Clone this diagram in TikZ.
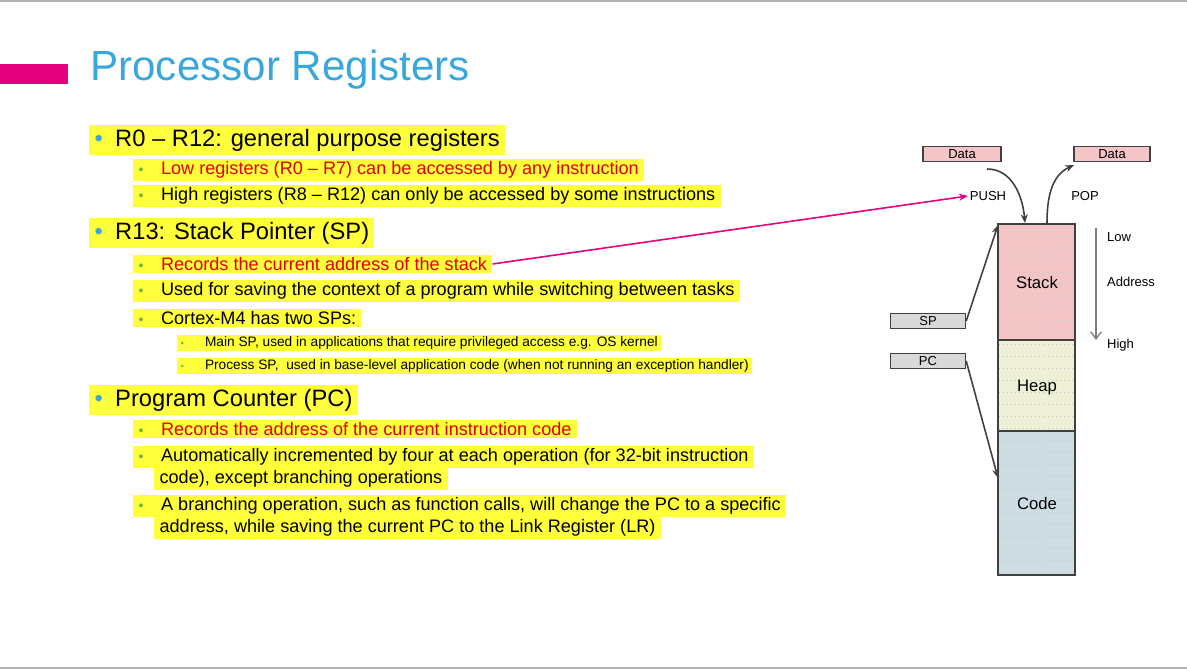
\documentclass[tikz,border=0pt]{standalone}
\usepackage{fontspec}
\setmainfont{Liberation Sans}
\usetikzlibrary{arrows.meta}
\definecolor{ttl}{HTML}{3AA7DC}
\definecolor{mag}{HTML}{E5007E}
\definecolor{hl}{HTML}{FFFF3C}
\definecolor{bgreen}{HTML}{6DB33F}
\definecolor{rtxt}{HTML}{E00000}
\definecolor{stk}{HTML}{F3C5C7}
\definecolor{hp}{HTML}{EEF0D7}
\definecolor{cd}{HTML}{CEDCE4}
\definecolor{bx}{HTML}{D9D9D9}
\definecolor{ln}{HTML}{404040}
\tikzset{
 l1/.style={fill=hl,anchor=west,inner xsep=3pt,inner ysep=2pt,font=\fontsize{13.5}{15}\selectfont},
 l2/.style={fill=hl,anchor=west,inner xsep=3pt,inner ysep=1.5pt,font=\fontsize{10.3}{12}\selectfont},
 l3/.style={fill=hl,anchor=west,inner xsep=2pt,inner ysep=1pt,font=\fontsize{7.8}{9}\selectfont},
 lab/.style={font=\fontsize{7.4}{8}\selectfont,inner sep=1pt},
 regbox/.style={draw=ln,line width=0.8pt,minimum height=8.5pt,inner sep=0pt,font=\fontsize{7.4}{8}\selectfont},
 seg/.style={draw=ln,line width=1pt},
 conn/.style={draw=ln,line width=0.9pt,-{Stealth[length=5pt,width=4pt]}},
}
\newcommand{\bA}{\textcolor{ttl}{•}\hspace{7pt}}
\newcommand{\bB}{\textcolor{bgreen}{\footnotesize•}\hspace{10pt}}
\newcommand{\bC}{\textcolor{bgreen}{\tiny•}\hspace{12pt}}
\begin{document}
\begin{tikzpicture}[x=0.02cm,y=-0.02cm]
\useasboundingbox (0,0) rectangle (1187,671);
\draw[gray!60,line width=0.6pt] (0,1) -- (1187,1);
\draw[gray!60,line width=0.6pt] (0,668) -- (1187,668);
\fill[mag] (0,64) rectangle (68,84);
\node[anchor=west,inner sep=0pt,text=ttl,font=\fontsize{24}{28}\selectfont] (title) at (90,70) {Processor Registers};
% bullets
\node[l1] (a1) at (89,140) {\bA R0 -- R12: general purpose registers};
\node[l2] (a1a) at (133,170) {\bB\textcolor{rtxt}{Low registers (R0 -- R7) can be accessed by any instruction}};
\node[l2] (a1b) at (133,196) {\bB High registers (R8 -- R12) can only be accessed by some instructions};
\node[l1] (a2) at (89,233) {\bA R13: Stack Pointer (SP)};
\node[l2] (a2a) at (133,264) {\bB\textcolor{rtxt}{Records the current address of the stack}};
\node[l2] (a2b) at (133,291) {\bB Used for saving the context of a program while switching between tasks};
\node[l2] (a2c) at (133,318) {\bB Cortex-M4 has two SPs:};
\node[l3] (a2c1) at (177,343) {\bC Main SP, used in applications that require privileged access e.g. OS kernel};
\node[l3] (a2c2) at (177,366) {\bC Process SP,\ \ used in base-level application code (when not running an exception handler)};
\node[l1] (a3) at (89,400) {\bA Program Counter (PC)};
\node[l2] (a3a) at (133,429) {\bB\textcolor{rtxt}{Records the address of the current instruction code}};
\node[l2] (a3b) at (133,457) {\bB Automatically incremented by four at each operation (for 32-bit instruction};
\node[l2] (a3b2) at (154,479) {code), except branching operations};
\node[l2] (a3c) at (133,506) {\bB A branching operation, such as function calls, will change the PC to a specific};
\node[l2] (a3c2) at (154,528) {address, while saving the current PC to the Link Register (LR)};
% memory
\fill[stk] (998,224) rectangle (1075,340);
\fill[hp] (998,340) rectangle (1075,431);
\fill[cd] (998,431) rectangle (1075,575);
\foreach \y in {236,248,...,572} \draw[gray!45,dotted,line width=0.3pt] (999,\y) -- (1074,\y);
\draw[seg] (998,224) rectangle (1075,340);
\draw[seg] (998,340) rectangle (1075,431);
\draw[seg] (998,431) rectangle (1075,575);
\node[font=\fontsize{9.5}{11}\selectfont] (stack) at (1037,283) {Stack};
\node[font=\fontsize{9.5}{11}\selectfont] (heap) at (1037,387) {Heap};
\node[font=\fontsize{9.5}{11}\selectfont] (code) at (1037,504) {Code};
\coordinate (stop) at (998,225);
\coordinate (cin) at (998,478);
\coordinate (pushend) at (1025,223);
\coordinate (popstart) at (1047,223);
\node[regbox,fill=stk,minimum width=78*0.02cm] (d1) at (962,154) {Data};
\node[regbox,fill=stk,minimum width=76*0.02cm] (d2) at (1112,154) {Data};
\node[regbox,fill=bx,minimum width=75*0.02cm] (sp) at (928,321) {SP};
\node[regbox,fill=bx,minimum width=75*0.02cm] (pc) at (928,361) {PC};
\node[lab] (push) at (988,196) {PUSH};
\node[lab] (pop) at (1085,196) {POP};
\coordinate (pushs) at (987,169);
\coordinate (popend) at (1074,165);
\draw[conn] (pushs) to[out=0,in=95] (pushend);
\draw[conn] (popstart) to[out=90,in=205] (popend);
\draw[conn] (sp.east) -- (stop);
\draw[conn] (pc.east) -- (cin);
% address
\coordinate (at) at (1096,228);
\coordinate (ab) at (1096,340);
\draw[gray,line width=0.8pt,-{Straight Barb[length=4pt,width=6pt]}] (at) -- (ab);
\node[lab,anchor=west] (low) at (1105,237) {Low};
\node[lab,anchor=west] (addr) at (1105,282) {Address};
\node[lab,anchor=west] (high) at (1105,345) {High};
% magenta pointer
\draw[mag,line width=0.9pt,-{Stealth[length=5pt,width=4pt]}] (a2a.east) -- (push.west);
\end{tikzpicture}
\end{document}
